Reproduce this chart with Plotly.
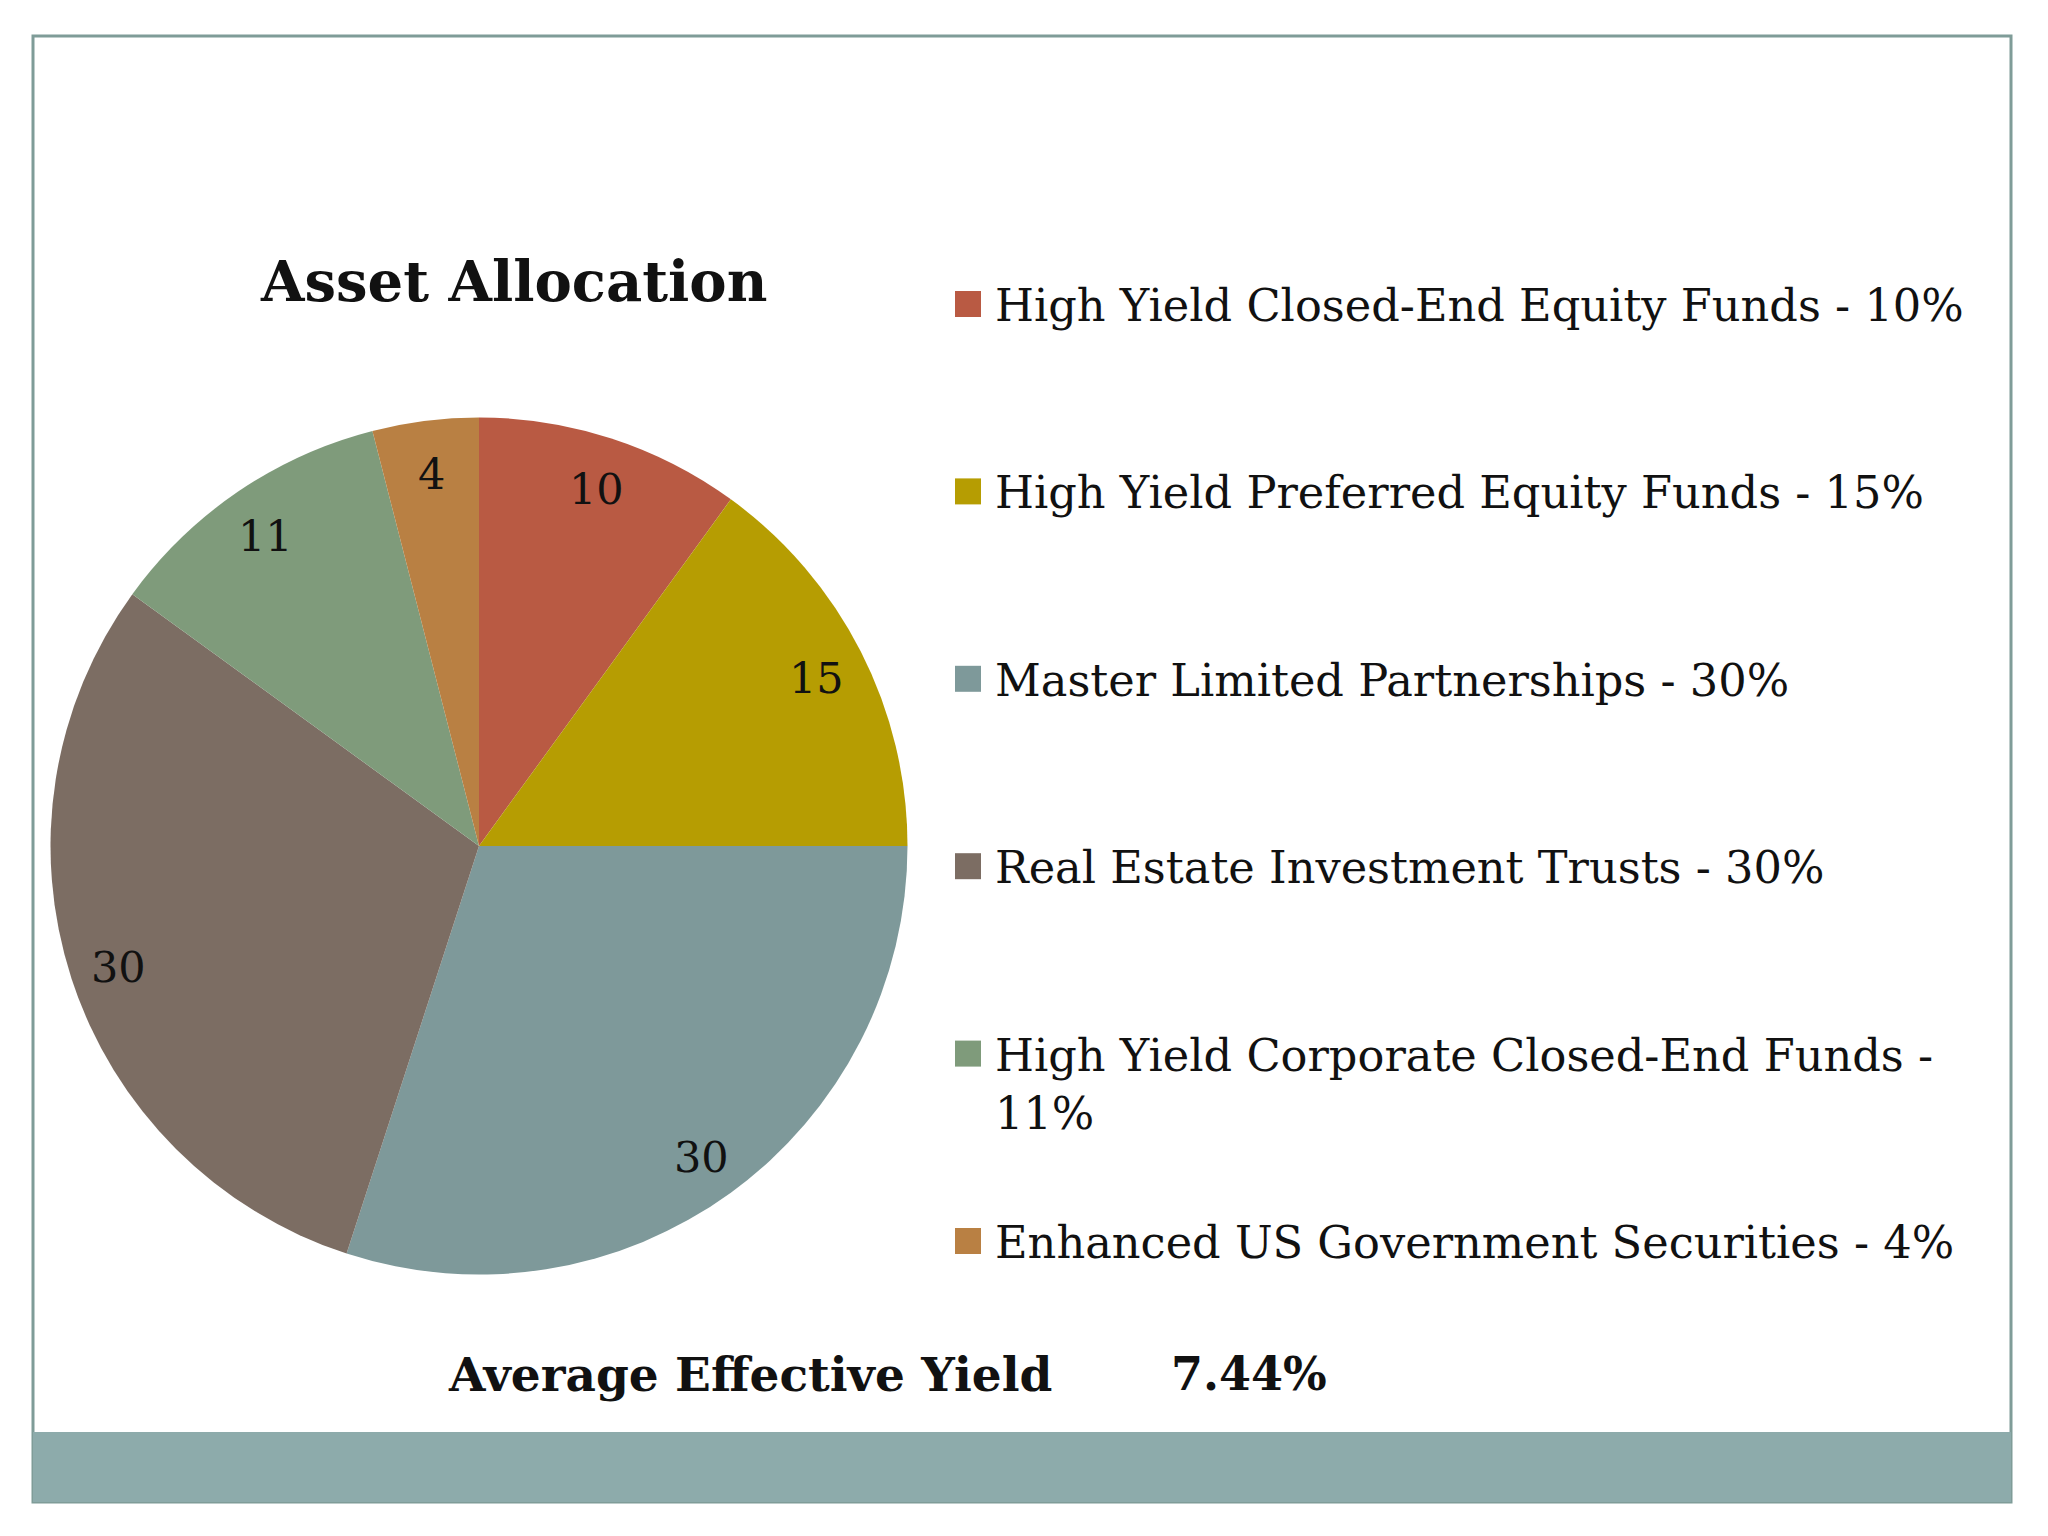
import math
import plotly.graph_objects as go

# ---- data ----
labels = [
    "High Yield Closed-End Equity Funds",
    "High Yield Preferred Equity Funds",
    "Master Limited Partnerships",
    "Real Estate Investment Trusts",
    "High Yield Corporate Closed-End Funds",
    "Enhanced US Government Securities",
]
values = [10, 15, 30, 30, 11, 4]
colors = ["#B95A43", "#B69D02", "#7E999A", "#7C6D63", "#7F9B7B", "#B98043"]
title_text = "Asset Allocation"
yield_label = "Average Effective Yield"
yield_value = "7.44%"

W, H = 2048, 1536
FONT = "DejaVu Serif"

# pie geometry (pixels)
cx, cy, r = 479, 846, 428.5
dom_x = [(cx - r) / W, (cx + r) / W]
dom_y = [1 - (cy + r) / H, 1 - (cy - r) / H]

fig = go.Figure(go.Pie(
    labels=labels, values=values, sort=False, direction="clockwise", rotation=0,
    marker=dict(colors=colors, line=dict(width=0)),
    textinfo="none", hoverinfo="label+value", showlegend=False,
    domain=dict(x=dom_x, y=dom_y),
))

annotations = []
shapes = []

# slice value labels placed at mid-angle near outer edge
total = sum(values)
cum = 0
for v in values:
    mid = (cum + v / 2) / total * 2 * math.pi
    cum += v
    px = cx + 0.885 * r * math.sin(mid)
    py = cy - 0.885 * r * math.cos(mid) + 4
    annotations.append(dict(
        x=px / W, y=1 - py / H, xref="paper", yref="paper", text=str(v),
        showarrow=False, font=dict(family=FONT, size=43, color="#111111"),
        xanchor="center", yanchor="middle"))

# custom legend
row0, step = 304, 187.4
line_h = 58
for i, (lab, v, c) in enumerate(zip(labels, values, colors)):
    ry = row0 + i * step
    txt = f"{lab} - {v}%"
    nlines = 1
    if len(txt) > 41:
        txt = f"{lab} -<br>{v}%"
        nlines = 2
    shapes.append(dict(type="rect", xref="paper", yref="paper",
                       x0=955 / W, x1=981 / W, y0=1 - (ry - 13) / H, y1=1 - (ry + 13) / H,
                       fillcolor=c, line=dict(width=0)))
    ty = ry + 2 + (nlines - 1) * line_h / 2
    annotations.append(dict(
        x=993 / W, y=1 - ty / H, xref="paper", yref="paper", text=txt, align="left",
        showarrow=False, font=dict(family=FONT, size=44.7, color="#111111"),
        xanchor="left", yanchor="middle"))

# title
annotations.append(dict(x=513 / W, y=1 - 281 / H, xref="paper", yref="paper",
                        text=f"<b>{title_text}</b>", showarrow=False,
                        font=dict(family=FONT, size=56, color="#111111"),
                        xanchor="center", yanchor="middle"))
# yield line
annotations.append(dict(x=750 / W, y=1 - 1374 / H, xref="paper", yref="paper",
                        text=f"<b>{yield_label}</b>", showarrow=False,
                        font=dict(family=FONT, size=47, color="#111111"),
                        xanchor="center", yanchor="middle"))
annotations.append(dict(x=1249 / W, y=1 - 1374 / H, xref="paper", yref="paper",
                        text=f"<b>{yield_value}</b>", showarrow=False,
                        font=dict(family=FONT, size=46, color="#111111"),
                        xanchor="center", yanchor="middle"))

# frame and bottom band
shapes.insert(0, dict(type="rect", xref="paper", yref="paper", layer="below",
                      x0=33 / W, x1=2011 / W, y0=1 - 1502 / H, y1=1 - 36 / H,
                      fillcolor="#FFFFFF", line=dict(color="#7F9C98", width=3)))
shapes.append(dict(type="rect", xref="paper", yref="paper",
                   x0=33 / W, x1=2011 / W, y0=1 - 1502 / H, y1=1 - 1432 / H,
                   fillcolor="#8DABAB", line=dict(width=0)))

fig.update_layout(
    width=W, height=H, margin=dict(l=0, r=0, t=0, b=0),
    paper_bgcolor="#FFFFFF", plot_bgcolor="#FFFFFF",
    annotations=annotations, shapes=shapes, showlegend=False,
)

fig.write_html("out.html", config={"displayModeBar": False})
